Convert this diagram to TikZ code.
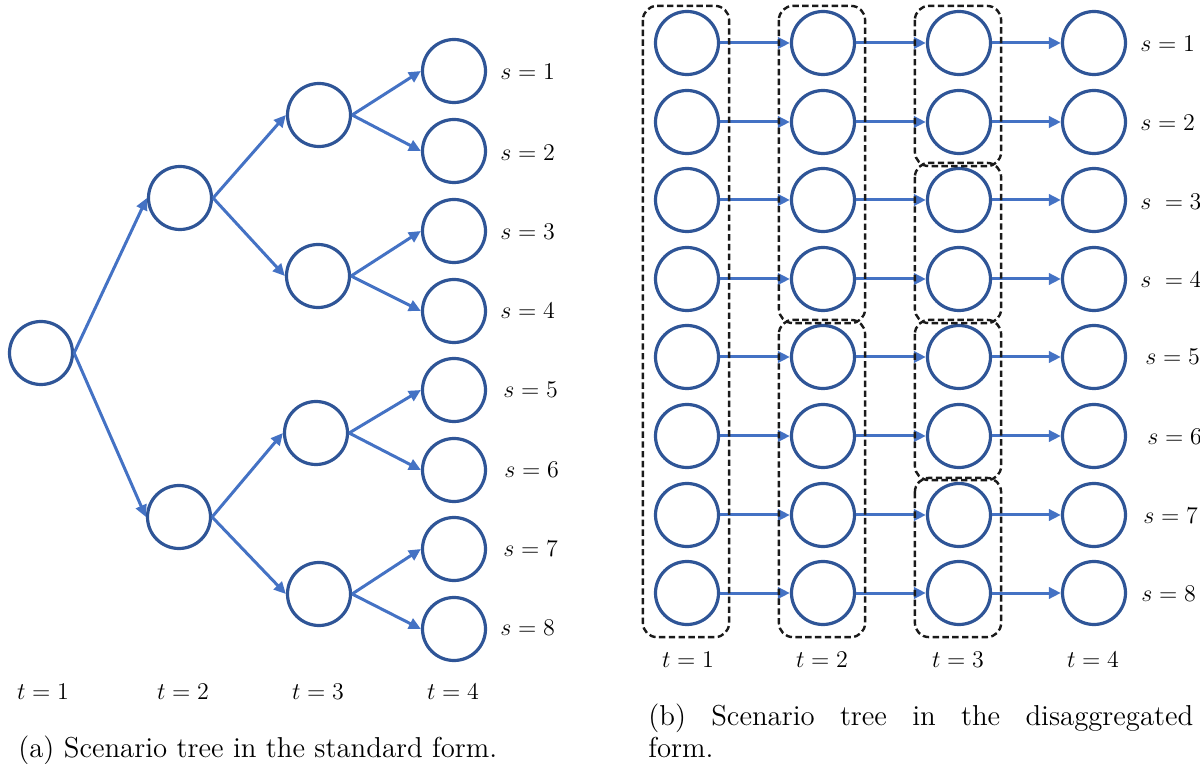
\documentclass[tikz,border=0pt]{standalone}
\usetikzlibrary{arrows.meta,calc}
\definecolor{nodeblue}{HTML}{2F5597}
\definecolor{arrowblue}{HTML}{4472C4}
\definecolor{boxgray}{HTML}{1A1A1A}
\begin{document}
\begin{tikzpicture}[x=0.5pt,y=-0.5pt,
 sn/.style={circle,draw=nodeblue,line width=1.6pt,minimum size=31.5pt,inner sep=0pt,fill=white},
 arr/.style={draw=arrowblue,line width=1.5pt,-{Triangle[length=6pt,width=5.6pt]}},
 grp/.style={draw=boxgray,dash pattern=on 3.2pt off 1.7pt,line width=1.2pt,rounded corners=7pt},
 lab/.style={font=\fontsize{11.8}{13}\selectfont,anchor=west,inner sep=0pt},
 tlab/.style={font=\fontsize{11.5}{13}\selectfont,inner sep=0pt},
 captxt/.style={font=\fontsize{14.4}{17}\selectfont,anchor=base west,inner sep=0pt}]
\useasboundingbox (0,0) rectangle (1200,764);

% ---------- (a) standard form ----------
\node[sn] (r) at (41,353) {};
\node[sn] (a1) at (180,198) {};
\node[sn] (a2) at (179,517) {};
\node[sn] (b1) at (319,115) {};
\node[sn] (b2) at (318,276) {};
\node[sn] (b3) at (316,433) {};
\node[sn] (b4) at (319,594) {};
\foreach \k/\y in {1/71,2/151,3/231,4/311,5/390,6/470,7/549,8/629}
  \node[sn] (l\k) at (454,\y) {};

\draw[arr] (r.east) -- (a1.west);
\draw[arr] (r.east) -- (a2.west);
\draw[arr] (a1.east) -- (b1.west);
\draw[arr] (a1.east) -- (b2.west);
\draw[arr] (a2.east) -- (b3.west);
\draw[arr] (a2.east) -- (b4.west);
\draw[arr] (b1.east) -- (l1.west);
\draw[arr] (b1.east) -- (l2.west);
\draw[arr] (b2.east) -- (l3.west);
\draw[arr] (b2.east) -- (l4.west);
\draw[arr] (b3.east) -- (l5.west);
\draw[arr] (b3.east) -- (l6.west);
\draw[arr] (b4.east) -- (l7.west);
\draw[arr] (b4.east) -- (l8.west);

\foreach \k/\x/\y in {1/500/72,2/500/153,3/500/232,4/500/311,5/503/390,6/504/470,7/503/549,8/500/628}
  \node[lab] (ls\k) at (\x,\y) {$s=\k$};

\node[tlab] (ta1) at (43,692) {$t=1$};
\node[tlab] (ta2) at (183,692) {$t=2$};
\node[tlab] (ta3) at (318,692) {$t=3$};
\node[tlab] (ta4) at (453,692) {$t=4$};

\node[captxt] (capa) at (18,757) {(a) Scenario tree in the standard form.};

% ---------- (b) disaggregated form ----------
\foreach \i/\y in {1/43,2/122,3/200,4/279,5/357,6/436,7/515,8/593}{
  \foreach \j/\x in {1/687,2/823,3/959,4/1094}{
    \node[sn] (d\i\j) at (\x,\y) {};
  }
}
\foreach \i in {1,...,8}{
  \draw[arr] (d\i1.east) -- (d\i2.west);
  \draw[arr] (d\i2.east) -- (d\i3.west);
  \draw[arr] (d\i3.east) -- (d\i4.west);
}

\draw[grp] ($(d11.north -| d11.west)+(-11,-4)$) rectangle ($(d81.south -| d81.east)+(9,11)$);
\draw[grp] ($(d12.north -| d12.west)+(-11,-4)$) rectangle ($(d42.south -| d42.east)+(9,11)$);
\draw[grp] ($(d52.north -| d52.west)+(-11,-4)$) rectangle ($(d82.south -| d82.east)+(9,11)$);
\draw[grp] ($(d13.north -| d13.west)+(-11,-4)$) rectangle ($(d23.south -| d23.east)+(9,11)$);
\draw[grp] ($(d33.north -| d33.west)+(-11,-4)$) rectangle ($(d43.south -| d43.east)+(9,11)$);
\draw[grp] ($(d53.north -| d53.west)+(-11,-4)$) rectangle ($(d63.south -| d63.east)+(9,11)$);
\draw[grp] ($(d73.north -| d73.west)+(-11,-4)$) rectangle ($(d83.south -| d83.east)+(9,11)$);

\node[lab] (rs1) at (1140,44) {$s=1$};
\node[lab] (rs2) at (1140,123) {$s=2$};
\node[lab] (rs3) at (1140,202) {$s\;=3$};
\node[lab] (rs4) at (1140,280) {$s\;=4$};
\node[lab] (rs5) at (1145,357) {$s=5$};
\node[lab] (rs6) at (1147,437) {$s=6$};
\node[lab] (rs7) at (1143,516) {$s=7$};
\node[lab] (rs8) at (1141,594) {$s=8$};

\node[tlab] (tb1) at (688,660) {$t=1$};
\node[tlab] (tb2) at (822,660) {$t=2$};
\node[tlab] (tb3) at (958,660) {$t=3$};
\node[tlab] (tb4) at (1093,660) {$t=4$};

\node[captxt] (capb1) at (648,725) {\makebox[272.5pt][s]{(b) Scenario tree in the disaggregated}};
\node[captxt] (capb2) at (648,757) {form.};
\end{tikzpicture}
\end{document}
